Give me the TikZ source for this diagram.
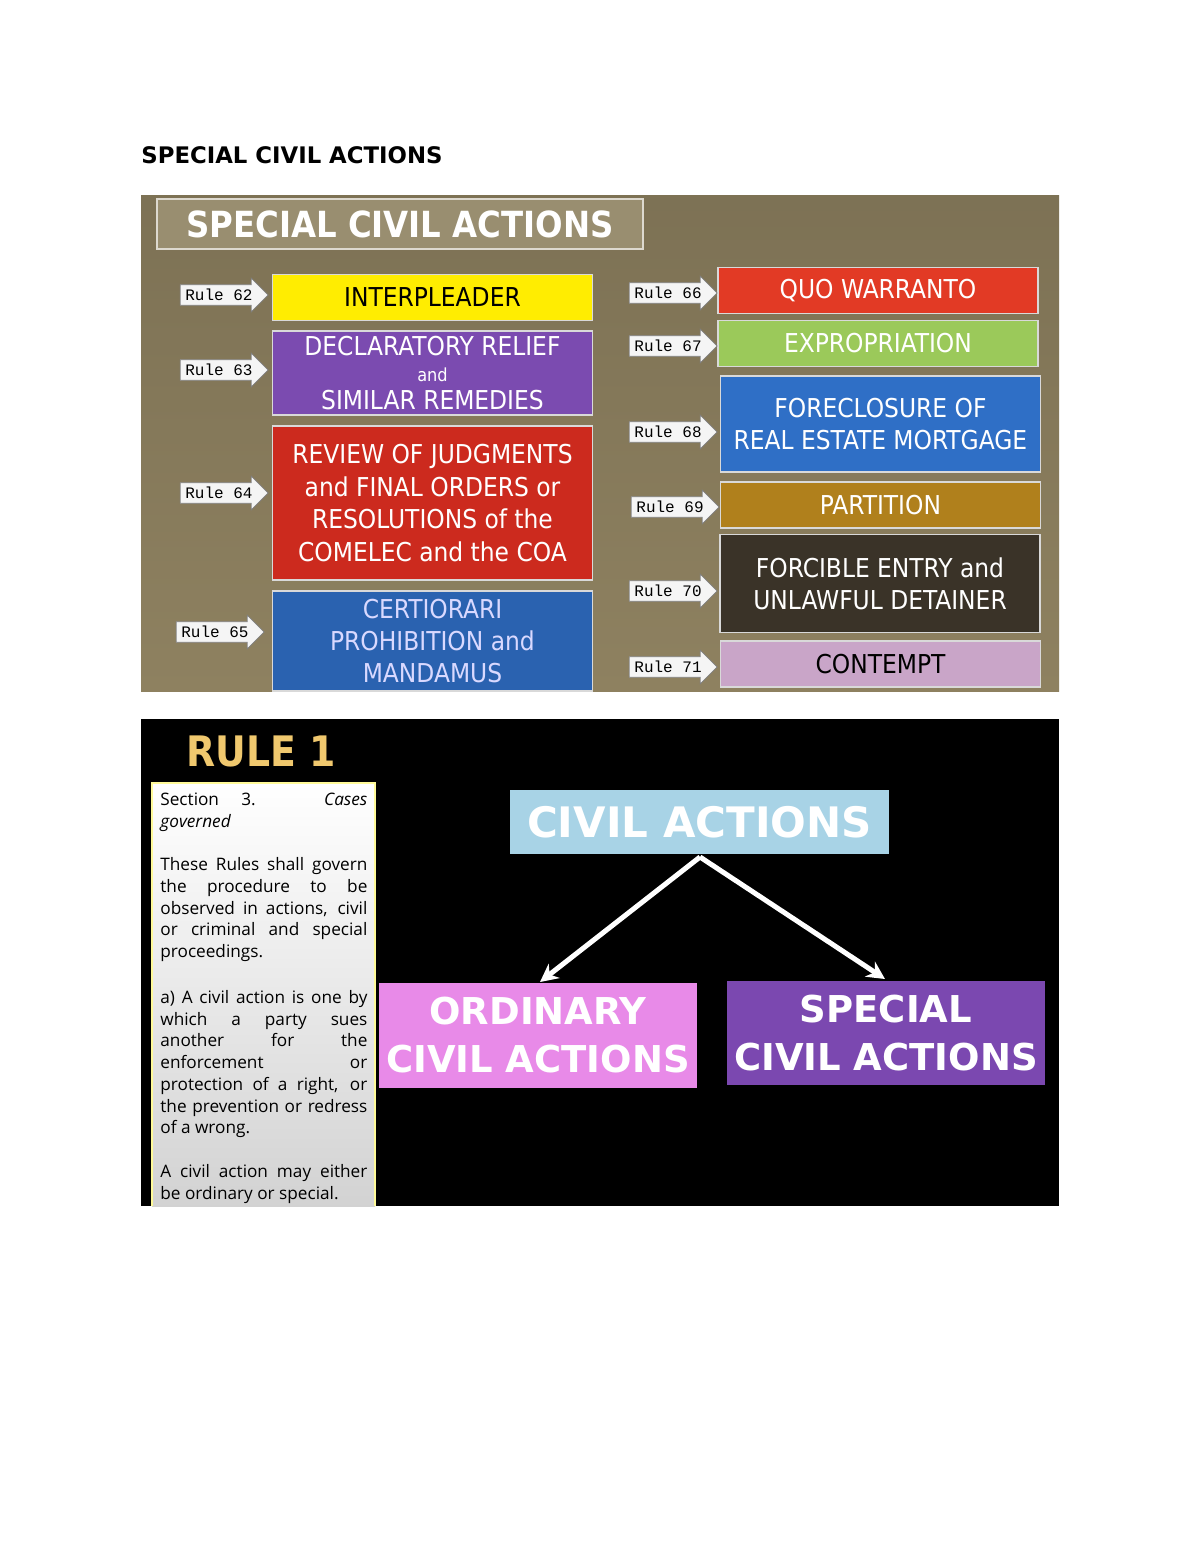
\documentclass[tikz,border=0pt]{standalone}
\usepackage{fontspec}
\setmainfont{DejaVu Sans}
\newfontfamily\cond{DejaVu Sans Condensed}
\newfontfamily\body{Open Sans}
\setmonofont{Liberation Mono}
\usetikzlibrary{shapes.arrows,arrows.meta}
\definecolor{panel}{HTML}{8E8160}
\newcommand{\jl}[1]{\hbox to 103.5pt{\spaceskip=0pt plus 1fil\relax #1}}
\begin{document}
\begin{tikzpicture}[x=0.5pt,y=-0.5pt,
 box/.style={draw=white!85!black,line width=0.8pt,inner sep=0pt,align=center,font=\cond\fontsize{13}{16}\selectfont},
 rulearrow/.style={single arrow,draw=gray,fill=gray!8,minimum height=44pt,minimum width=17pt,single arrow head extend=3pt,inner sep=1.5pt,font=\ttfamily\fontsize{8}{8}\selectfont},
 lnode/.style={anchor=base west,inner sep=0pt,font=\body\fontsize{8.6}{10}\selectfont}]
\useasboundingbox (0,0) rectangle (1200,1553);
\fill[white] (0,0) rectangle (1200,1553);
\node[anchor=base west,inner sep=0pt,font=\bfseries\fontsize{11.4}{12}\selectfont] (title) at (141,163) {SPECIAL CIVIL ACTIONS};
% panel 1
\shade[top color=panel!88!black,bottom color=panel!100!black] (141,195) rectangle (1059,691);
\node[draw=white!70!panel,fill=panel!90!white,line width=1pt,minimum width=243pt,minimum height=25pt,inner sep=0pt,font=\cond\bfseries\fontsize{18}{22}\selectfont,text=white] (t1) at (400,224) {SPECIAL CIVIL ACTIONS};
\node[box,fill=yellow!95!orange,text=black,minimum width=160pt,minimum height=23pt] (b62) at (432.5,297.5) {INTERPLEADER};
\node[box,fill={rgb,255:red,123;green,75;blue,176},text=white,minimum width=160pt,minimum height=42pt] (b63) at (432.5,373) {DECLARATORY RELIEF\\[-3pt]{\fontsize{9}{10}\selectfont and}\\[-2pt]SIMILAR REMEDIES};
\node[box,fill={rgb,255:red,204;green,42;blue,30},text=white,minimum width=160pt,minimum height=77pt,font=\cond\fontsize{13}{16.2}\selectfont] (b64) at (432.5,503) {REVIEW OF JUDGMENTS\\and FINAL ORDERS or\\RESOLUTIONS of the\\COMELEC and the COA};
\node[box,fill={rgb,255:red,42;green,98;blue,176},text=white!85!blue,minimum width=160pt,minimum height=50pt,font=\cond\fontsize{13}{16.2}\selectfont] (b65) at (432.5,641) {CERTIORARI\\PROHIBITION and\\MANDAMUS};
\node[box,fill={rgb,255:red,226;green,58;blue,37},text=white,minimum width=160pt,minimum height=23pt] (b66) at (878,290.5) {QUO WARRANTO};
\node[box,fill={rgb,255:red,155;green,201;blue,90},text=white,minimum width=160pt,minimum height=23pt] (b67) at (878,343.5) {EXPROPRIATION};
\node[box,fill={rgb,255:red,47;green,111;blue,198},text=white,minimum width=160pt,minimum height=48pt,font=\cond\fontsize{13}{16.2}\selectfont] (b68) at (880.5,424) {FORECLOSURE OF\\REAL ESTATE MORTGAGE};
\node[box,fill={rgb,255:red,176;green,128;blue,28},text=white,minimum width=160pt,minimum height=23pt] (b69) at (880.5,505) {PARTITION};
\node[box,fill={rgb,255:red,58;green,51;blue,40},text=white,minimum width=160pt,minimum height=49pt,font=\cond\fontsize{13}{16.2}\selectfont] (b70) at (880,583.5) {FORCIBLE ENTRY and\\UNLAWFUL DETAINER};
\node[box,fill={rgb,255:red,201;green,165;blue,200},text=black,minimum width=160pt,minimum height=23pt] (b71) at (880.5,664) {CONTEMPT};
\node[rulearrow] (r62) at (219,295) {Rule 62};
\node[rulearrow] (r63) at (219,370) {Rule 63};
\node[rulearrow] (r64) at (219,493) {Rule 64};
\node[rulearrow] (r65) at (215,632) {Rule 65};
\node[rulearrow] (r66) at (668,293) {Rule 66};
\node[rulearrow] (r67) at (668,346) {Rule 67};
\node[rulearrow] (r68) at (668,432) {Rule 68};
\node[rulearrow] (r69) at (670,507) {Rule 69};
\node[rulearrow] (r70) at (668,591) {Rule 70};
\node[rulearrow] (r71) at (668,667) {Rule 71};
% panel 2
\fill[black] (141,719) rectangle (1059,1206);
\node[anchor=base west,inner sep=0pt,text={rgb,255:red,240;green,200;blue,110},font=\cond\bfseries\fontsize{21}{24}\selectfont] (rule1) at (186,766) {RULE 1};
\shade[top color=white,bottom color=gray!35] (152,783) rectangle (375,1206);
\draw[yellow!40!white,line width=1pt] (152,1206) -- (152,783) -- (375,783) -- (375,1206);
\node[lnode] (l1) at (160,805) {\jl{Section 3. \textit{Cases}}};
\node[lnode] (l2) at (160,827) {\textit{governed}};
\node[lnode] (l3) at (160,870) {\jl{These Rules shall govern}};
\node[lnode] (l4) at (160,892) {\jl{the procedure to be}};
\node[lnode] (l5) at (160,914) {\jl{observed in actions, civil}};
\node[lnode] (l6) at (160,935) {\jl{or criminal and special}};
\node[lnode] (l7) at (160,957) {proceedings.};
\node[lnode] (l8) at (160,1003) {\jl{a) A civil action is one by}};
\node[lnode] (l9) at (160,1025) {\jl{which a party sues}};
\node[lnode] (l10) at (160,1046) {\jl{another for the}};
\node[lnode] (l11) at (160,1068) {\jl{enforcement or}};
\node[lnode] (l12) at (160,1090) {\jl{protection of a right, or}};
\node[lnode] (l13) at (160,1112) {\jl{the prevention or redress}};
\node[lnode] (l14) at (160,1133) {of a wrong.};
\node[lnode] (l15) at (160,1177) {\jl{A civil action may either}};
\node[lnode] (l16) at (160,1199) {be ordinary or special.};
\node[fill={rgb,255:red,168;green,211;blue,230},text=white,minimum width=189.5pt,minimum height=32pt,inner sep=0pt,font=\bfseries\fontsize{21}{26}\selectfont] (ca) at (699.5,822) {CIVIL ACTIONS};
\node[fill={rgb,255:red,232;green,138;blue,232},text=white,minimum width=159pt,minimum height=52.5pt,inner sep=0pt,align=center,font=\bfseries\fontsize{18.5}{24}\selectfont] (oca) at (538,1035.5) {ORDINARY\\CIVIL ACTIONS};
\node[fill={rgb,255:red,123;green,72;blue,176},text=white,minimum width=159pt,minimum height=52pt,inner sep=0pt,align=center,font=\bfseries\fontsize{18.5}{24}\selectfont] (sca) at (886,1033) {SPECIAL\\CIVIL ACTIONS};
\coordinate (top) at (700,857);
\coordinate (endo) at (540,982);
\coordinate (ends) at (885,979);
\draw[white,line width=2.5pt,-{Stealth[length=9pt,width=9pt]}] (top) -- (endo);
\draw[white,line width=2.5pt,-{Stealth[length=9pt,width=9pt]}] (top) -- (ends);
\end{tikzpicture}
\end{document}
